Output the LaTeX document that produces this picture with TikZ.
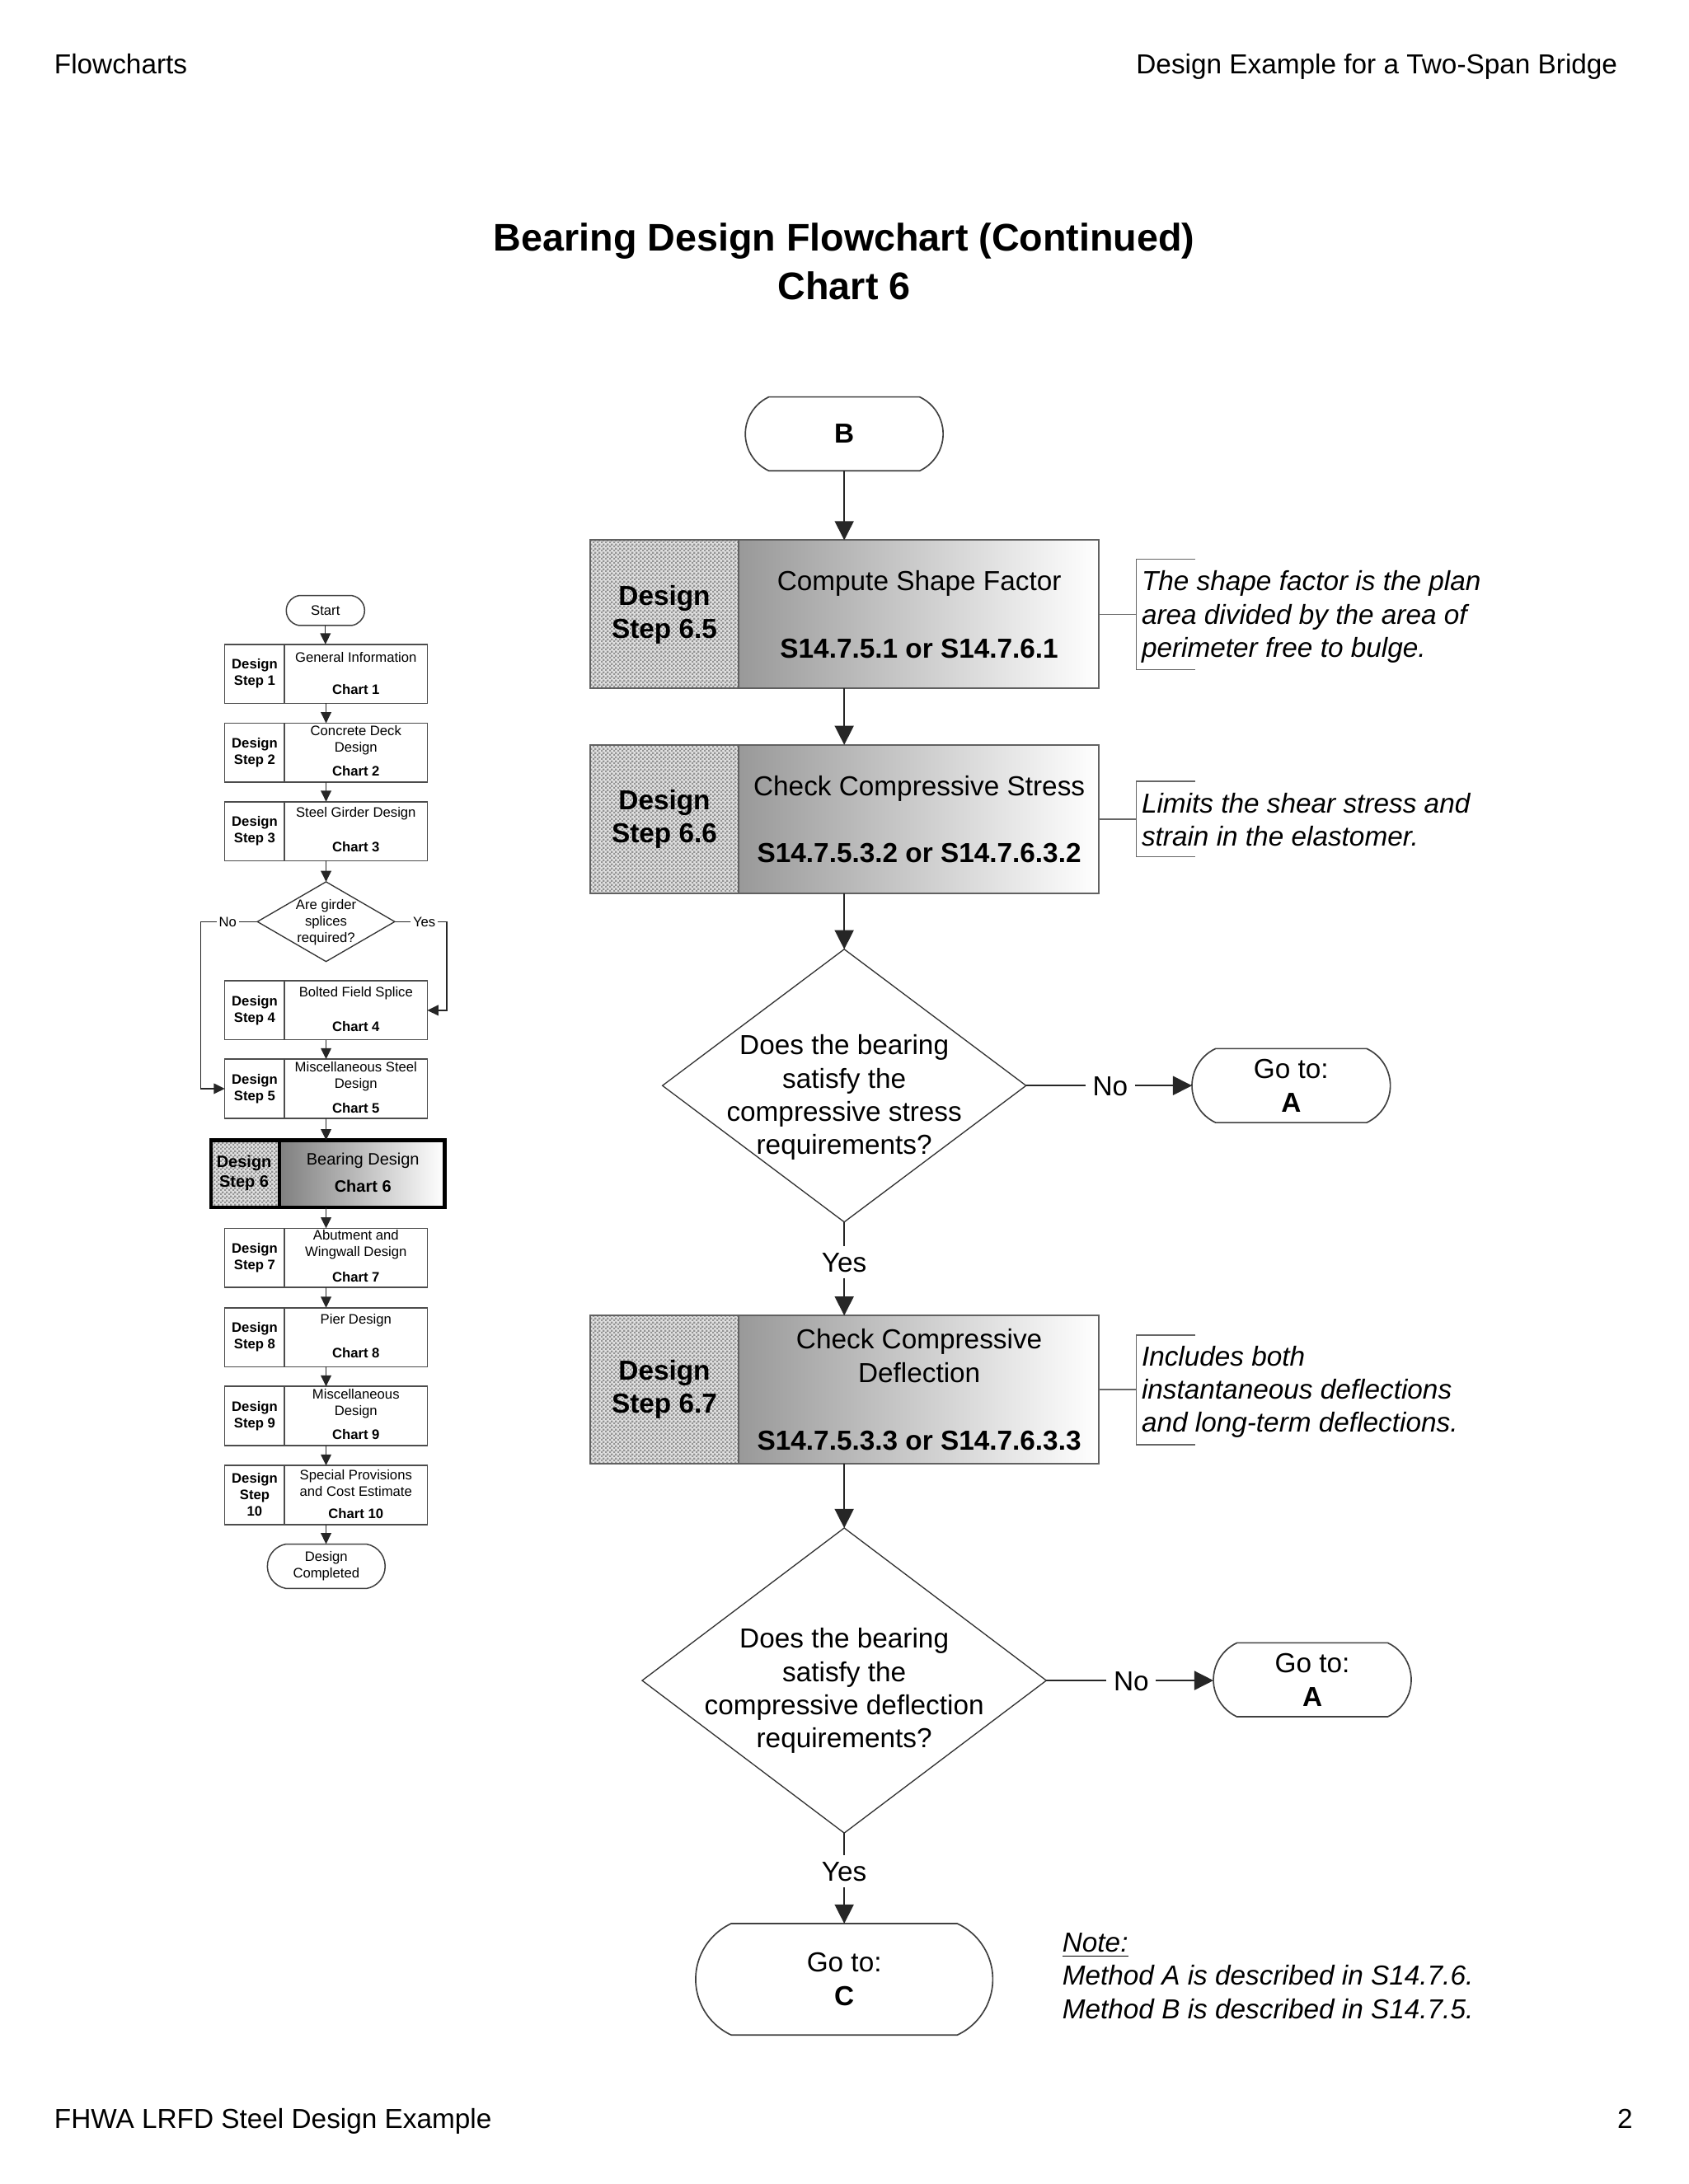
\documentclass[tikz,border=0pt]{standalone}
\usepackage{fontspec}
\setmainfont{Liberation Sans}
\usetikzlibrary{shapes.geometric,shapes.misc,arrows.meta,calc,patterns.meta}

\tikzdeclarepattern{
  name=checker,
  type=uncolored,
  bounding box={(0pt,0pt) and (1.4pt,1.4pt)},
  tile size={(1.4pt,1.4pt)},
  code={
    \fill (0pt,0pt) rectangle (0.7pt,0.7pt);
    \fill (0.7pt,0.7pt) rectangle (1.4pt,1.4pt);
  }
}

\newcommand\mainstep[4]{%
  \node[stepbox] (#1) at (606,#2) {};
  \fill[black!12,postaction={pattern=checker,pattern color=black!42}]
    (#1.north west) rectangle ($(#1.south west)+(107,0)$);
  \shade[left color=black!40,right color=white]
    ($(#1.north west)+(107,0)$) rectangle (#1.south east);
  \draw[boxline] (#1.north west) rectangle (#1.south east);
  \draw[boxline] ($(#1.north west)+(107,0)$) -- ($(#1.south west)+(107,0)$);
  \node[stepleft] (#1l) at ($(#1.west)+(53.5,0)$) {#3};
  \node[mtxt] (#1r) at ($(#1.west)+(236.4,0)$) {#4};
}

\newcommand\ministep[7]{%
  \node[minibox] (#1) at (234.05,#2) {};
  \draw[miniline] ($(#1.north west)+(42.9,0)$) -- ($(#1.south west)+(42.9,0)$);
  \node[minib] (#1l) at ($(#1.west)+(21.45,0)$) {#3};
  \node[mini] (#1t) at (255.5,#5) {#4};
  \node[minib] (#1c) at (255.5,#7) {#6};
}

\begin{document}
\begin{tikzpicture}[x=0.505bp,y=-0.505bp,
  every node/.style={inner sep=0pt,outer sep=0pt},
  mtxt/.style={font=\fontsize{10}{12.1}\selectfont,align=center},
  one/.style={text height=7.2bp,text depth=0bp},
  stepleft/.style={font=\fontsize{10}{12}\selectfont\bfseries,align=center},
  note/.style={font=\fontsize{10}{12.1}\selectfont\itshape,align=left,anchor=west},
  stepbox/.style={minimum width=184.4bp,minimum height=53.8bp},
  boxline/.style={draw=black!62,line width=0.6bp},
  conn/.style={draw=black!85,line width=0.45bp},
  arr/.style={conn,-{Triangle[length=6.9bp,width=6.9bp]}},
  term/.style={rounded rectangle,rounded rectangle arc length=130,draw=black!75,line width=0.5bp,align=center,font=\fontsize{10}{12.1}\selectfont},
  dia/.style={diamond,draw=black!80,line width=0.4bp},
  lbl/.style={font=\fontsize{10}{12.1}\selectfont,text height=7.2bp,text depth=0bp,inner xsep=2.6bp,inner ysep=2.2bp},
  brk/.style={draw=black!60,line width=0.45bp},
  mini/.style={font=\fontsize{5}{6}\selectfont,align=center},
  minib/.style={font=\fontsize{5}{6}\selectfont\bfseries,align=center},
  minibox/.style={draw=black!70,line width=0.45bp,minimum width=73.4bp,minimum height=21.4bp},
  miniline/.style={draw=black!70,line width=0.45bp},
  mconn/.style={draw=black!85,line width=0.4bp},
  marr/.style={mconn,-{Triangle[length=4bp,width=3.8bp]}},
  mterm/.style={rounded rectangle,rounded rectangle arc length=160,draw=black!75,line width=0.45bp,align=center,font=\fontsize{5}{6}\selectfont},
  mlbl/.style={font=\fontsize{5}{6}\selectfont,text height=3.6bp,text depth=0bp,inner xsep=0.8bp}
]
\fill[white] (0,0) rectangle (1212,1568);
\useasboundingbox (0,0) rectangle (1212,1568);

% header and footer
\node[mtxt,one,anchor=west] (hdrL) at (39,46) {Flowcharts};
\node[mtxt,one,anchor=east] (hdrR) at (1161,46) {Design Example for a Two-Span Bridge};
\node[mtxt,one,anchor=west] (ftrL) at (39,1521) {FHWA LRFD Steel Design Example};
\node[mtxt,one,anchor=east] (ftrR) at (1172,1521) {2};

% title
\node[font=\fontsize{14}{17.7}\selectfont\bfseries,align=center] (title) at (606,187.5) {Bearing Design Flowchart (Continued)\\Chart 6};

% main chart
\node[term,minimum width=71.7bp,minimum height=26.8bp,font=\fontsize{10}{12.1}\selectfont\bfseries] (B) at (606,311.5) {B};

\mainstep{s65}{441.05}{Design\\Step 6.5}{Compute Shape Factor\\[12.6bp]\textbf{S14.7.5.1 or S14.7.6.1}}
\mainstep{s66}{588}{Design\\Step 6.6}{Check Compressive Stress\\[12.2bp]\textbf{S14.7.5.3.2 or S14.7.6.3.2}}
\mainstep{s67}{997.7}{Design\\Step 6.7}{Check Compressive\\Deflection\\[12.6bp]\textbf{S14.7.5.3.3 or S14.7.6.3.3}}

% annotations
\node[note] (n65) at (819.5,443) {The shape factor is the plan\\area divided by the area of\\perimeter free to bulge.};
\coordinate (k65) at (815.6,441.05);
\draw[brk] (s65.east) -- (k65);
\draw[brk] ($(k65)+(42.4,-39.7)$) -- ($(k65)+(0,-39.7)$) -- ($(k65)+(0,39.8)$) -- ($(k65)+(42.4,39.8)$);

\node[note] (n66) at (819.5,588.3) {Limits the shear stress and\\strain in the elastomer.};
\coordinate (k66) at (815.6,588);
\draw[brk] (s66.east) -- (k66);
\draw[brk] ($(k66)+(42.4,-27)$) -- ($(k66)+(0,-27)$) -- ($(k66)+(0,27)$) -- ($(k66)+(42.4,27)$);

\node[note] (n67) at (819.5,999.2) {Includes both\\instantaneous deflections\\and long-term deflections.};
\coordinate (k67) at (815.6,997.7);
\draw[brk] (s67.east) -- (k67);
\draw[brk] ($(k67)+(42.4,-39.3)$) -- ($(k67)+(0,-39.3)$) -- ($(k67)+(0,39.6)$) -- ($(k67)+(42.4,39.6)$);

% decision 1
\node[dia,minimum width=131.8bp,minimum height=98.9bp] (d1) at (606,779.4) {};
\node[mtxt] (d1t) at (606,788) {Does the bearing\\satisfy the\\compressive stress\\requirements?};
\node[lbl] (no1) at (797,779.4) {No};
\node[term,minimum width=71.9bp,minimum height=26.8bp] (ga1) at (926.8,779.4) {Go to:\\\textbf{A}};
\node[lbl] (yes1) at (606,906) {Yes};

\draw[arr] (B.south) -- (B.south |- s65.north);
\draw[arr] (s65.south) -- (s66.north);
\draw[arr] (s66.south) -- (d1.north);
\draw[conn] (d1.east) -- (no1.west);
\draw[arr] (no1.east) -- (ga1.west);
\draw[conn] (d1.south) -- (yes1.north);
\draw[arr] (yes1.south) -- (s67.north);

% decision 2
\node[dia,minimum width=146.5bp,minimum height=110.6bp] (d2) at (606,1206.5) {};
\node[mtxt] (d2t) at (606,1214) {Does the bearing\\satisfy the\\compressive deflection\\requirements?};
\node[lbl] (no2) at (812,1206.5) {No};
\node[term,minimum width=71.7bp,minimum height=26.8bp] (ga2) at (942,1206) {Go to:\\\textbf{A}};
\node[lbl] (yes2) at (606,1343.5) {Yes};
\node[term,minimum width=107.7bp,minimum height=40.4bp] (gc) at (606,1421) {Go to:\\\textbf{C}};

\draw[arr] (s67.south) -- (d2.north);
\draw[conn] (d2.east) -- (no2.west);
\draw[arr] (no2.east) -- (no2.east -| ga2.west);
\draw[conn] (d2.south) -- (yes2.north);
\draw[arr] (yes2.south) -- (gc.north);

% note
\node[note] (note) at (762.6,1418.6) {\underline{Note:}\\Method A is described in S14.7.6.\\Method B is described in S14.7.5.};

% mini chart
\node[mterm,minimum width=28.4bp,minimum height=10.8bp] (mstart) at (233.6,438.3) {Start};
\ministep{b1}{483.8}{Design\\Step 1}{General Information}{472}{Chart 1}{495.1}
\ministep{b2}{540.4}{Design\\Step 2}{Concrete Deck\\Design}{531.6}{Chart 2}{553.8}
\ministep{b3}{596.75}{Design\\Step 3}{Steel Girder Design}{584.2}{Chart 3}{608.1}
\node[dia,minimum width=49.8bp,minimum height=28.9bp] (mdia) at (234.05,661.7) {};
\node[mini] (mdiat) at (234.05,662) {Are girder\\splices\\required?};
\node[mlbl] (mno) at (163.5,661.7) {No};
\node[mlbl] (myes) at (304.5,661.7) {Yes};
\ministep{b4}{725.35}{Design\\Step 4}{Bolted Field Splice}{713.2}{Chart 4}{736.9}
\ministep{b5}{781.6}{Design\\Step 5}{Miscellaneous Steel\\Design}{773}{Chart 5}{795.4}

\node[minimum width=84.6bp,minimum height=24.4bp] (b6) at (235.4,842.7) {};
\fill[black!12,postaction={pattern=checker,pattern color=black!42}] (b6.north west) rectangle ($(b6.south west)+(49,0)$);
\shade[left color=black!50,right color=white] ($(b6.north west)+(49,0)$) rectangle (b6.south east);
\draw[draw=black,line width=1.3bp] (b6.north west) rectangle (b6.south east);
\draw[draw=black,line width=1.3bp] ($(b6.north west)+(49,0)$) -- ($(b6.south west)+(49,0)$);
\node[font=\fontsize{6}{7}\selectfont\bfseries,align=center] (b6l) at (175.2,842.2) {Design\\Step 6};
\node[font=\fontsize{6}{9.75}\selectfont,align=center] (b6r) at (260.5,842) {Bearing Design\\\textbf{Chart 6}};

\ministep{b7}{903.05}{Design\\Step 7}{Abutment and\\Wingwall Design}{893.4}{Chart 7}{916.7}
\ministep{b8}{960.1}{Design\\Step 8}{Pier Design}{947.7}{Chart 8}{971}
\ministep{b9}{1016.55}{Design\\Step 9}{Miscellaneous\\Design}{1007.5}{Chart 9}{1030}
\ministep{b10}{1073.3}{Design\\Step\\10}{Special Provisions\\and Cost Estimate}{1064.6}{Chart 10}{1086.8}
\node[mterm,minimum width=42.7bp,minimum height=16.1bp] (mend) at (234.2,1124.5) {Design\\Completed};

\draw[marr] (mstart.south) -- (mstart.south |- b1.north);
\draw[marr] (b1.south) -- (b2.north);
\draw[marr] (b2.south) -- (b3.north);
\draw[marr] (b3.south) -- (b3.south |- mdia.north);
\draw[mconn] (mdia.west) -- (mno.east);
\coordinate (mnoC) at (144,661.7);
\draw[marr] (mno.west) -- (mnoC) |- (b5.west);
\draw[mconn] (mdia.east) -- (myes.west);
\coordinate (myesC) at (320.7,661.7);
\draw[marr] (myes.east) -- (myesC) |- (b4.east);
\draw[marr] (b4.south) -- (b5.north);
\draw[marr] (b5.south) -- (b5.south |- b6.north);
\draw[marr] (b7.north |- b6.south) -- (b7.north);
\draw[marr] (b7.south) -- (b8.north);
\draw[marr] (b8.south) -- (b9.north);
\draw[marr] (b9.south) -- (b10.north);
\draw[marr] (b10.south) -- (b10.south |- mend.north);
\end{tikzpicture}
\end{document}
